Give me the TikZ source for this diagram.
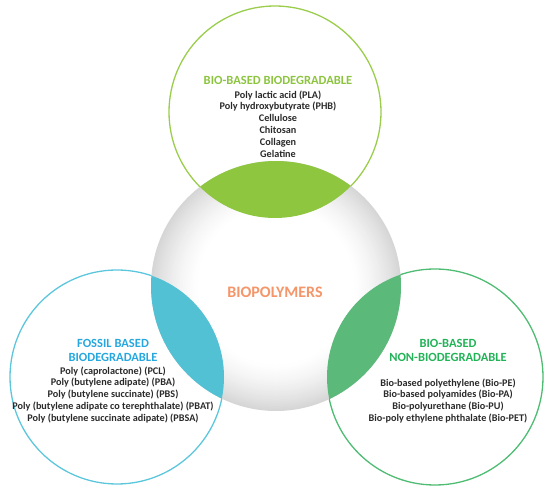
\documentclass[tikz,border=0pt]{standalone}
\usepackage{fontspec}
\setmainfont{Carlito}
\usetikzlibrary{positioning}

\definecolor{bbline}{HTML}{9BCD4C}
\definecolor{bblens}{HTML}{8FC63F}
\definecolor{bbtext}{HTML}{8CC43F}
\definecolor{fbline}{HTML}{5CC6DC}
\definecolor{fblens}{HTML}{52C1D3}
\definecolor{fbtext}{HTML}{26A8DF}
\definecolor{nbline}{HTML}{4EBC72}
\definecolor{nblens}{HTML}{5BB97A}
\definecolor{nbtext}{HTML}{22B358}
\definecolor{titletext}{HTML}{F5966A}
\definecolor{listtext}{HTML}{2A2A2A}

\begin{document}
\begin{tikzpicture}[x=1pt,y=-1pt,
    ring/.style={circle,draw,line width=1.3pt,minimum size=#1,inner sep=0pt},
    head/.style={align=center,inner sep=0pt,font=\fontsize{12.5}{14}\selectfont\bfseries},
    items/.style={align=center,inner sep=0pt,text=listtext,font=\fontsize{10.2}{11.8}\selectfont\bfseries}]
  \useasboundingbox (0,0) rectangle (550,489);

  % outer circles
  \node[ring=212pt,draw=bbline] (bbcirc) at (275,112) {};
  \node[ring=214pt,draw=fbline] (fbcirc) at (117,377) {};
  \node[ring=216pt,draw=nbline] (nbcirc) at (435,377) {};

  % centre sphere, grey towards the rim
  \node[circle,minimum size=250pt,inner sep=0pt] (core) at (276,286) {};
  \foreach \i in {0,...,30} {
    \pgfmathsetmacro\rad{125-\i*1.6}
    \pgfmathsetmacro\tone{16*(1-\i/30)^1.5}
    \fill[black!\tone] (core.center) circle (\rad pt);
  }
  \fill[white] (core.center) circle (76pt);

  % overlaps
  \begin{scope}
    \clip (core.center) circle (125pt);
    \fill[bblens] (bbcirc.center) circle (106pt);
    \fill[fblens] (fbcirc.center) circle (107pt);
    \fill[nblens] (nbcirc.center) circle (108pt);
  \end{scope}

  \node[font=\fontsize{16}{18}\selectfont\bfseries,text=titletext] (title) at (275,292) {BIOPOLYMERS};

  \node[head,text=bbtext] (bbhead) at (278,80) {BIO-BASED BIODEGRADABLE};
  \node[items,below=6pt of bbhead] (bblist) {Poly lactic acid (PLA)\\Poly hydroxybutyrate (PHB)\\Cellulose\\Chitosan\\Collagen\\Gelatine};

  \node[head,text=fbtext] (fbhead) at (113,350) {FOSSIL BASED\\BIODEGRADABLE};
  \node[items,below=5pt of fbhead] (fblist) {Poly (caprolactone) (PCL)\\Poly (butylene adipate) (PBA)\\Poly (butylene succinate) (PBS)\\Poly (butylene adipate co terephthalate) (PBAT)\\Poly (butylene succinate adipate) (PBSA)};

  \node[head,text=nbtext] (nbhead) at (448,350) {BIO-BASED\\NON-BIODEGRADABLE};
  \node[items,below=17pt of nbhead] (nblist) {Bio-based polyethylene (Bio-PE)\\Bio-based polyamides (Bio-PA)\\Bio-polyurethane (Bio-PU)\\Bio-poly ethylene phthalate (Bio-PET)};
\end{tikzpicture}
\end{document}
